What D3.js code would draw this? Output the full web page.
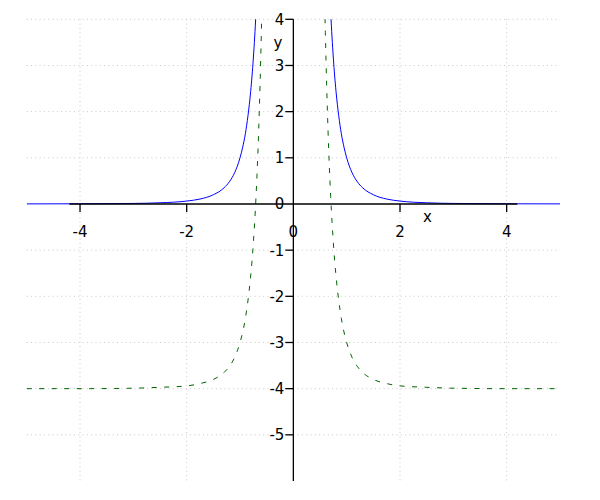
<!DOCTYPE html>
<html>
<head>
<meta charset="utf-8">
<script src="https://cdn.jsdelivr.net/npm/d3@7"></script>
<style>
  body { margin: 0; background: #fff; }
  svg { font-family: "DejaVu Sans", sans-serif; }
</style>
</head>
<body>
<svg width="600" height="500"></svg>
<script>
// values, one list per branch (left / right of x = 0)
const blueLeftX  = [-5, -4, -3, -2.5, -2, -1.75, -1.5, -1.3, -1.2, -1.1, -1.0, -0.95, -0.9, -0.85, -0.8, -0.75, -0.7, -0.68];
const blueLeftY  = [0.002, 0.004, 0.012, 0.026, 0.063, 0.107, 0.2, 0.35, 0.48, 0.68, 1.0, 1.23, 1.52, 1.92, 2.44, 3.16, 4.16, 4.68];
const blueRightX = [0.68, 0.7, 0.75, 0.8, 0.85, 0.9, 0.95, 1.0, 1.1, 1.2, 1.3, 1.5, 1.75, 2, 2.5, 3, 4, 5];
const blueRightY = [4.68, 4.16, 3.16, 2.44, 1.92, 1.52, 1.23, 1.0, 0.68, 0.48, 0.35, 0.2, 0.107, 0.063, 0.026, 0.012, 0.004, 0.002];

const greenLeftX  = [-5, -4, -3, -2.5, -2, -1.75, -1.5, -1.3, -1.2, -1.1, -1.0, -0.9, -0.85, -0.8, -0.75, -0.7, -0.65, -0.6, -0.58];
const greenLeftY  = [-4.0, -4.0, -3.99, -3.97, -3.94, -3.89, -3.8, -3.65, -3.52, -3.32, -3.0, -2.48, -2.08, -1.56, -0.84, 0.16, 1.6, 3.72, 4.84];
const greenRightX = [0.58, 0.6, 0.65, 0.7, 0.75, 0.8, 0.85, 0.9, 1.0, 1.1, 1.2, 1.3, 1.5, 1.75, 2, 2.5, 3, 4, 5];
const greenRightY = [4.84, 3.72, 1.6, 0.16, -0.84, -1.56, -2.08, -2.48, -3.0, -3.32, -3.52, -3.65, -3.8, -3.89, -3.94, -3.97, -3.99, -4.0, -4.0];

const xTicks = [-4, -2, 0, 2, 4];
const yTicks = [4, 3, 2, 1, 0, -1, -2, -3, -4, -5];
const xGrid = [-4, -2, 2, 4];
const yGrid = [4, 3, 2, 1, -1, -2, -3, -4, -5];

const svg = d3.select('svg');
const x = d3.scaleLinear().domain([-5, 5]).range([26.7, 560]);
const y = d3.scaleLinear().domain([-6, 4]).range([481, 19.3]);

// grid
const grid = svg.append('g')
  .attr('stroke', '#c8c8c8')
  .attr('stroke-width', 1)
  .attr('stroke-dasharray', '1,3.3');
grid.selectAll('line.v')
  .data(xGrid)
  .enter()
  .append('line')
  .attr('x1', d => x(d)).attr('x2', d => x(d))
  .attr('y1', y(4)).attr('y2', y(-6));
grid.selectAll('line.h')
  .data(yGrid)
  .enter()
  .append('line')
  .attr('x1', x(-5)).attr('x2', x(5))
  .attr('y1', d => y(d)).attr('y2', d => y(d));

// clip curves to plot box
svg.append('clipPath').attr('id', 'plot')
  .append('rect')
  .attr('x', x(-5)).attr('y', y(4))
  .attr('width', x(5) - x(-5)).attr('height', y(-6) - y(4));

const line = d3.line()
  .x(d => x(d[0]))
  .y(d => y(d[1]))
  .curve(d3.curveMonotoneX);

const curves = svg.append('g').attr('clip-path', 'url(#plot)');
const branches = [
  { xs: greenLeftX, ys: greenLeftY, color: '#006400', dash: '5,7.5' },
  { xs: greenRightX, ys: greenRightY, color: '#006400', dash: '5,7.5' },
  { xs: blueLeftX, ys: blueLeftY, color: '#0000ff', dash: null },
  { xs: blueRightX, ys: blueRightY, color: '#0000ff', dash: null }
];
branches.forEach(b => {
  curves.append('path')
    .attr('d', line(d3.zip(b.xs, b.ys)))
    .attr('fill', 'none')
    .attr('stroke', b.color)
    .attr('stroke-width', 1)
    .attr('stroke-dasharray', b.dash);
});

// axes through origin
const axes = svg.append('g').attr('stroke', '#000').attr('stroke-width', 1.3);
axes.append('line')
  .attr('x1', x(-4.2)).attr('x2', x(4.2))
  .attr('y1', y(0)).attr('y2', y(0));
axes.append('line')
  .attr('x1', x(0)).attr('x2', x(0))
  .attr('y1', y(4)).attr('y2', y(-6));
axes.selectAll('line.xt')
  .data(xTicks.filter(d => d !== 0))
  .enter()
  .append('line')
  .attr('x1', d => x(d)).attr('x2', d => x(d))
  .attr('y1', y(0)).attr('y2', y(0) + 8);
axes.selectAll('line.yt')
  .data(yTicks.filter(d => d !== 0))
  .enter()
  .append('line')
  .attr('x1', x(0) - 8).attr('x2', x(0))
  .attr('y1', d => y(d)).attr('y2', d => y(d));

// tick labels
svg.append('g').selectAll('text')
  .data(xTicks)
  .enter()
  .append('text')
  .attr('x', d => x(d))
  .attr('y', y(0) + 33)
  .attr('text-anchor', 'middle')
  .attr('font-size', 15)
  .text(d => d);
svg.append('g').selectAll('text')
  .data(yTicks)
  .enter()
  .append('text')
  .attr('x', x(0) - 9)
  .attr('y', d => y(d) + 5.5)
  .attr('text-anchor', 'end')
  .attr('font-size', 15)
  .text(d => d);

// axis names
svg.append('text').attr('x', 278).attr('y', 48)
  .attr('text-anchor', 'middle').attr('font-size', 15).text('y');
svg.append('text').attr('x', 427.5).attr('y', 222)
  .attr('text-anchor', 'middle').attr('font-size', 15).text('x');
</script>
</body>
</html>
